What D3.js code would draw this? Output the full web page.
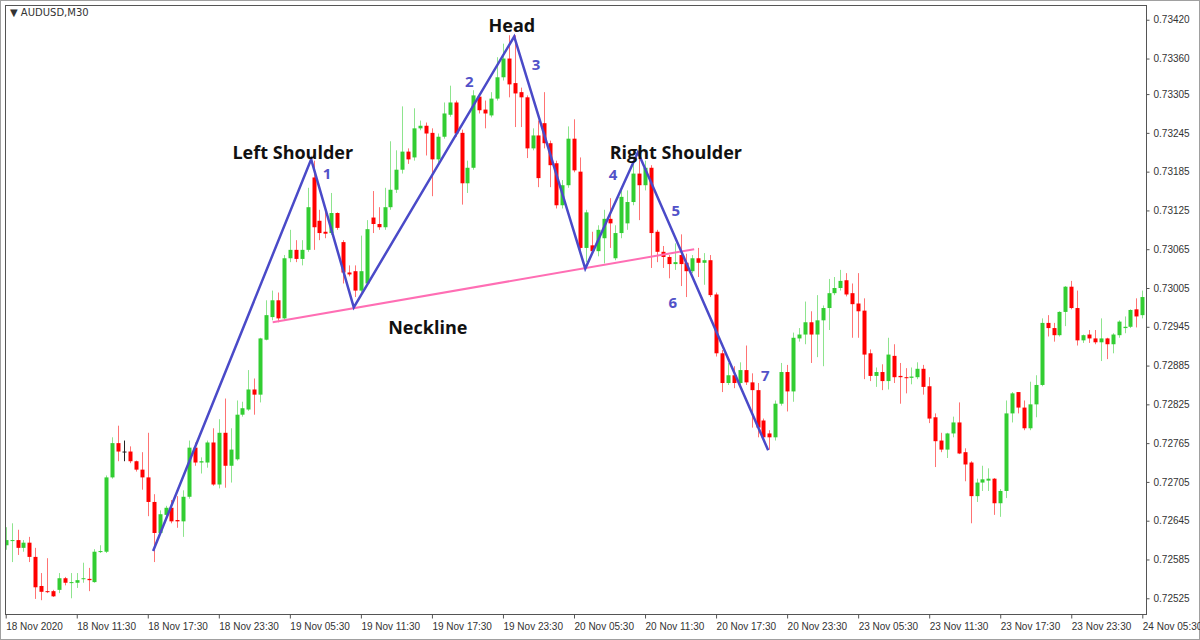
<!DOCTYPE html>
<html>
<head>
<meta charset="utf-8">
<script src="https://cdn.jsdelivr.net/npm/d3@7"></script>
<style>
  body { margin: 0; background: #fff; }
  svg { display: block; }
</style>
</head>
<body>
<div id="chart"></div>
<script>
// AUDUSD M30 candles, prices in points (price x 100000)
var opens = [72607,72614,72615,72603,72611,72589,72544,72536,72536,72538,
72556,72549,72549,72555,72555,72550,72597,72597,72712,72765,
72752,72752,72737,72724,72712,72674,72626,72654,72665,72646,
72644,72682,72758,72735,72735,72766,72701,72781,72730,72740,
72809,72817,72848,72840,72925,72960,72986,72958,73051,73064,
73050,73064,73176,73109,73092,73090,73121,73076,73029,73031,
73001,73012,73114,73104,73099,73130,73157,73188,73216,73207,
73252,73256,73245,73204,73239,73273,73292,73245,73167,73191,
73301,73281,73272,73298,73331,73360,73322,73308,73300,73221,
73241,73260,73229,73198,73133,73164,73236,73185,73067,73071,
73062,73082,73112,73051,73090,73105,73138,73182,73164,73191,
73092,73061,73053,73042,73056,73044,73031,73051,73044,73048,
72995,72904,72858,72870,72858,72878,72859,72847,72800,72780,
72774,72826,72875,72845,72927,72933,72952,72933,72955,72974,
72997,73005,73017,72997,72981,72970,72904,72869,72875,72861,
72900,72869,72867,72866,72867,72880,72853,72805,72769,72755,
72780,72797,72751,72735,72683,72704,72707,72710,72672,72691,
72811,72844,72820,72788,72825,72855,72951,72943,72932,72968,
73007,72974,72924,72933,72927,72921,72927,72918,72932,72943,
72945,72972,72963];
var highs = [72635,72641,72631,72615,72620,72603,72564,72587,72538,72564,
72558,72564,72564,72580,72572,72601,72607,72715,72774,72792,
72769,72760,72738,72751,72781,72686,72661,72668,72677,72683,
72692,72769,72766,72743,72769,72788,72802,72834,72788,72831,
72829,72878,72865,72928,72986,73001,72998,73056,73095,73079,
73079,73160,73202,73126,73129,73152,73122,73079,73040,73040,
73086,73110,73155,73130,73160,73232,73218,73286,73221,73283,
73264,73261,73252,73244,73292,73318,73295,73250,73202,73311,
73306,73295,73308,73362,73383,73396,73396,73315,73303,73252,
73264,73308,73233,73202,73172,73255,73266,73207,73126,73092,
73102,73126,73144,73102,73156,73156,73202,73215,73202,73195,
73095,73070,73056,73074,73088,73058,73056,73067,73059,73056,
72998,72909,72889,72884,72890,72916,72873,72858,72803,72785,
72831,72889,72886,72936,72943,72984,72969,72994,72978,73019,
73022,73033,73028,73012,73028,72989,72910,72882,72887,72928,
72918,72889,72881,72882,72890,72886,72867,72811,72781,72781,
72806,72828,72757,72737,72710,72730,72726,72711,72694,72831,
72844,72843,72831,72860,72870,72958,72963,72951,72969,73008,
73016,73001,72933,72940,72940,72958,72928,72935,72955,72961,
72972,72989,73001];
var lows = [72600,72581,72592,72597,72581,72524,72522,72533,72527,72533,
72545,72525,72541,72549,72536,72549,72595,72595,72710,72737,
72737,72734,72721,72693,72652,72581,72623,72651,72641,72634,
72620,72679,72730,72718,72727,72699,72695,72696,72704,72738,
72806,72815,72809,72828,72924,72955,72952,72955,73045,73045,
73040,73061,73064,73079,73082,73087,73095,73012,73023,72991,
72998,73008,73090,73095,73095,73126,73152,73182,73197,73202,
73249,73210,73147,73199,73236,73270,73239,73134,73152,73188,
73275,73252,73269,73295,73326,73300,73254,73254,73206,73218,
73161,73221,73161,73128,73128,73160,73184,73061,73045,73059,
73054,73043,73067,73048,73082,73095,73133,73110,73156,73036,
73045,73036,73020,73033,73008,72991,73028,73022,73010,72991,
72899,72844,72855,72850,72853,72855,72789,72774,72768,72755,
72769,72823,72814,72829,72922,72918,72889,72898,72884,72940,
72994,73001,72992,72928,72928,72864,72861,72852,72847,72848,
72858,72826,72842,72856,72864,72840,72796,72728,72751,72742,
72774,72748,72706,72641,72674,72691,72691,72654,72651,72680,
72797,72811,72785,72785,72805,72853,72930,72922,72930,72946,
72972,72916,72920,72920,72918,72892,72895,72904,72928,72935,
72943,72944,72958];
var closes = [72615,72615,72603,72611,72589,72542,72535,72535,72528,72556,
72549,72550,72553,72556,72553,72597,72598,72712,72765,72752,
72752,72737,72724,72712,72674,72626,72655,72665,72644,72644,
72682,72758,72735,72737,72766,72701,72781,72730,72755,72809,
72819,72848,72840,72927,72963,72986,72958,73051,73064,73050,
73064,73130,73099,73090,73089,73121,73098,73029,73026,73001,
73031,73096,73104,73099,73130,73157,73188,73216,73204,73252,
73256,73244,73204,73239,73275,73292,73244,73167,73191,73303,
73280,73275,73298,73331,73360,73320,73306,73300,73221,73241,
73175,73229,73195,73133,73164,73236,73187,73067,73122,73062,
73095,73112,73105,73090,73146,73138,73182,73164,73191,73090,
73061,73053,73042,73045,73042,73031,73051,73044,73048,72994,
72904,72858,72870,72858,72878,72859,72847,72789,72774,72774,
72826,72875,72845,72928,72933,72952,72933,72955,72974,72997,
73005,73016,72995,72980,72969,72902,72869,72875,72861,72902,
72867,72867,72866,72868,72880,72852,72803,72768,72755,72780,
72797,72749,72732,72683,72704,72709,72710,72672,72691,72811,
72842,72820,72788,72825,72855,72951,72943,72932,72968,73007,
72974,72924,72932,72927,72921,72927,72918,72933,72953,72945,
72971,72961,72991];

var priceTicks = [73420,73360,73305,73245,73185,73125,73065,73005,72945,72885,
                  72825,72765,72705,72645,72585,72525];
var timeLabels = ["18 Nov 2020","18 Nov 11:30","18 Nov 17:30","18 Nov 23:30","19 Nov 05:30",
  "19 Nov 11:30","19 Nov 17:30","19 Nov 23:30","20 Nov 05:30","20 Nov 11:30","20 Nov 17:30",
  "20 Nov 23:30","23 Nov 05:30","23 Nov 11:30","23 Nov 17:30","23 Nov 23:30","24 Nov 05:30"];

// head & shoulders annotation: [bar index, price]
var zigzag = [[24.9,72598],[51.6,73204],[58.8,72975],[85.9,73394],[97.9,73035],[106.8,73215],[128.8,72754]];
var neckline = [[45.1,72952],[116.3,73065]];
var bigLabels = [["Left Shoulder",48.5,73215],["Head",85.5,73412],["Right Shoulder",113.2,73215],["Neckline",71.3,72945]];
var numLabels = [["1",54.3,73183],["2",78.3,73325],["3",89.6,73352],["4",102.6,73181],["5",113.2,73126],["6",112.7,72983],["7",128.3,72870]];

var width = 1200, height = 640;
var plot = {left: 5, right: 1146, top: 5, bottom: 614};

var svg = d3.select("#chart").append("svg")
    .attr("width", width).attr("height", height)
    .style("font-family", "Tahoma, 'DejaVu Sans', sans-serif");

// outer frame
svg.append("rect").attr("x", 0.5).attr("y", 0.5).attr("width", width - 1).attr("height", height - 1)
    .attr("fill", "#fff").attr("stroke", "#a0a0a0");

var x = d3.scaleLinear().domain([0, 192]).range([5.7, 1142.3]);
var y = d3.scaleLinear().domain([72645, 73005]).range([520.7, 288]);

svg.append("defs").append("clipPath").attr("id", "clip")
  .append("rect").attr("x", plot.left).attr("y", plot.top)
  .attr("width", plot.right - plot.left).attr("height", plot.bottom - plot.top);

var g = svg.append("g").attr("clip-path", "url(#clip)");

var bars = d3.range(closes.length);
function col(i) {
  if (closes[i] > opens[i]) return "#32cd32";
  if (closes[i] < opens[i]) return "#ff0000";
  return "#222";
}

// wicks
g.selectAll("line.wick").data(bars).enter().append("line")
    .attr("class", "wick")
    .attr("x1", d => Math.round(x(d)) + 0.5).attr("x2", d => Math.round(x(d)) + 0.5)
    .attr("y1", d => y(highs[d])).attr("y2", d => y(lows[d]))
    .attr("stroke", col).attr("stroke-opacity", d => opens[d] === closes[d] ? 1 : 0.55)
    .attr("stroke-width", 1);

// bodies
g.selectAll("rect.body").data(bars).enter().append("rect")
    .attr("class", "body")
    .attr("x", d => Math.round(x(d)) - 1.5)
    .attr("width", 4)
    .attr("y", d => y(Math.max(opens[d], closes[d])))
    .attr("height", d => Math.max(1, Math.abs(y(opens[d]) - y(closes[d]))))
    .attr("fill", col);

// neckline and zigzag
var line = d3.line().x(d => x(d[0])).y(d => y(d[1]));
g.append("path").attr("d", line(neckline)).attr("fill", "none")
    .attr("stroke", "#ff6eb4").attr("stroke-width", 2);
g.append("path").attr("d", line(zigzag)).attr("fill", "none")
    .attr("stroke", "#4a4ac8").attr("stroke-width", 2.5).attr("stroke-linejoin", "miter");

// labels (positioned by their centre)
g.selectAll("text.big").data(bigLabels).enter().append("text")
    .attr("x", d => x(d[1])).attr("y", d => y(d[2]))
    .attr("text-anchor", "middle").attr("dominant-baseline", "central")
    .style("font-family", "'Open Sans', sans-serif").style("font-weight", "bold")
    .style("font-size", "18px").attr("fill", "#111")
    .text(d => d[0]);
g.selectAll("text.num").data(numLabels).enter().append("text")
    .attr("x", d => x(d[1])).attr("y", d => y(d[2]))
    .attr("text-anchor", "middle").attr("dominant-baseline", "central")
    .style("font-family", "'Open Sans', sans-serif").style("font-weight", "bold")
    .style("font-size", "15px").attr("fill", "#5252c8")
    .text(d => d[0]);

// plot box
svg.append("rect").attr("x", plot.left + 0.5).attr("y", plot.top + 0.5)
    .attr("width", plot.right - plot.left).attr("height", plot.bottom - plot.top)
    .attr("fill", "none").attr("stroke", "#555");

// right price axis
var yAxis = svg.append("g")
    .attr("transform", "translate(" + (plot.right + 0.5) + ",0)")
    .call(d3.axisRight(y).tickValues(priceTicks).tickSize(3).tickFormat(d => (d / 100000).toFixed(5)));
yAxis.select(".domain").remove();
yAxis.selectAll("text").attr("x", 7).attr("fill", "#333").style("font-size", "10px");
yAxis.selectAll("line").attr("stroke", "#555");

// bottom time axis
var xAxis = svg.append("g")
    .attr("transform", "translate(0," + (plot.bottom + 0.5) + ")")
    .call(d3.axisBottom(x).tickValues(d3.range(0, 193, 12)).tickSize(4)
      .tickFormat((d, i) => timeLabels[i]));
xAxis.select(".domain").remove();
xAxis.selectAll("text").attr("text-anchor", "start").attr("x", 0).attr("y", 8)
    .attr("fill", "#333").style("font-size", "10px");
xAxis.selectAll("line").attr("stroke", "#555");

// symbol caption
svg.append("text").attr("x", 10).attr("y", 16).style("font-size", "10px").attr("fill", "#333")
    .text("\u25BC AUDUSD,M30");
</script>
</body>
</html>
